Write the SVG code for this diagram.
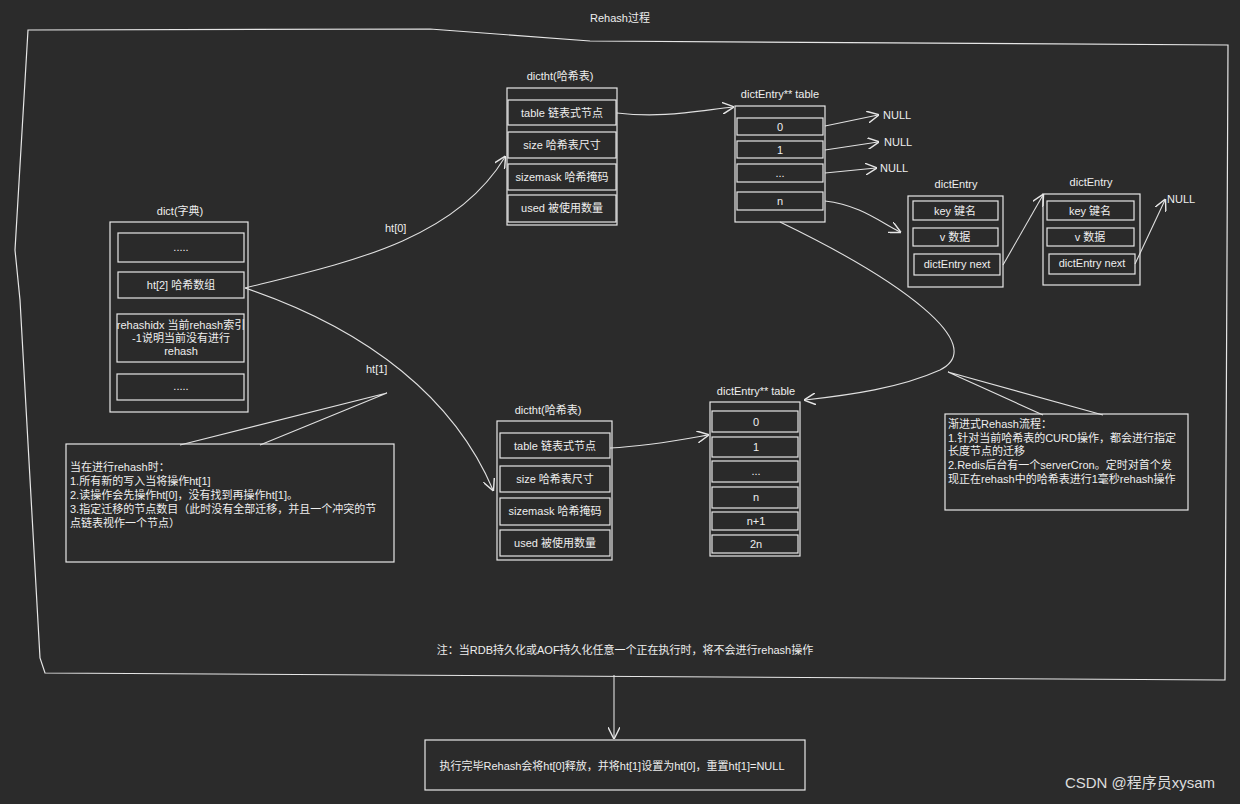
<svg xmlns="http://www.w3.org/2000/svg" width="1240" height="804" viewBox="0 0 1240 804">
<defs>
<style>
.t{font-family:"Liberation Sans","Noto Sans CJK SC",sans-serif;fill:#eeeeee;font-size:11px}
.c{text-anchor:middle}
.b{fill:none;stroke:#e6e6e6;stroke-width:1.2}
.r{fill:#2a2a2a;stroke:#e6e6e6;stroke-width:1.2}
.l{fill:none;stroke:#e0e0e0;stroke-width:1.1}
</style>
<marker id="a" viewBox="0 0 10 10" refX="9" refY="5" markerWidth="12" markerHeight="12" orient="auto" markerUnits="userSpaceOnUse"><path d="M0,0 L10,5 L0,10" fill="none" stroke="#e6e6e6" stroke-width="1.2"/></marker>
</defs>
<rect width="1240" height="804" fill="#2b2b2b"/>
<g id="frame">
<path class="b" d="M28,30 L430,29 L590,41 L1228,45 L1225,680 L45,673 L40,658 L20,300 L15,250 Z"/>
<text class="t c" x="620" y="22">Rehash过程</text>
<text class="t c" x="625" y="654">注：当RDB持久化或AOF持久化任意一个正在执行时，将不会进行rehash操作</text>
</g>
<g id="dict">
<text class="t c" x="180" y="215">dict(字典)</text>
<rect class="b" x="110" y="222" width="138" height="190"/>
<rect class="r" x="118" y="233" width="126" height="29"/><text class="t c" x="181" y="251">.....</text>
<rect class="r" x="118" y="272" width="126" height="26"/><text class="t c" x="181" y="289">ht[2] 哈希数组</text>
<rect class="r" x="117" y="314" width="127" height="48"/>
<text class="t c" x="181" y="329">rehashidx 当前rehash索引</text>
<text class="t c" x="181" y="342">-1说明当前没有进行</text>
<text class="t c" x="181" y="355">rehash</text>
<rect class="r" x="117" y="374" width="127" height="26"/><text class="t c" x="181" y="390">.....</text>
</g>
<g id="dictht0">
<text class="t c" x="560" y="80">dictht(哈希表)</text>
<rect class="b" x="507" y="88" width="110" height="137"/>
<rect class="r" x="508" y="100" width="108" height="25"/><text class="t c" x="562" y="117">table 链表式节点</text>
<rect class="r" x="508" y="132" width="108" height="26"/><text class="t c" x="562" y="149">size 哈希表尺寸</text>
<rect class="r" x="508" y="164" width="108" height="26"/><text class="t c" x="562" y="181">sizemask 哈希掩码</text>
<rect class="r" x="508" y="195" width="108" height="27"/><text class="t c" x="562" y="212">used 被使用数量</text>
</g>
<g id="table0">
<text class="t c" x="780" y="98">dictEntry** table</text>
<rect class="b" x="735" y="106" width="90" height="116"/>
<rect class="r" x="737" y="118" width="86" height="17"/><text class="t c" x="780" y="131">0</text>
<rect class="r" x="737" y="141" width="86" height="17"/><text class="t c" x="780" y="154">1</text>
<rect class="r" x="737" y="164" width="86" height="18"/><text class="t c" x="780" y="177">...</text>
<rect class="r" x="737" y="192" width="86" height="18"/><text class="t c" x="780" y="205">n</text>
</g>
<g id="entry1">
<text class="t c" x="956" y="188">dictEntry</text>
<rect class="b" x="908" y="196" width="95" height="91"/>
<rect class="r" x="913" y="201" width="85" height="19"/><text class="t c" x="955" y="215">key 键名</text>
<rect class="r" x="913" y="228" width="85" height="18"/><text class="t c" x="955" y="241">v 数据</text>
<rect class="r" x="914" y="254" width="86" height="21"/><text class="t c" x="957" y="268">dictEntry next</text>
</g>
<g id="entry2">
<text class="t c" x="1091" y="186">dictEntry</text>
<rect class="b" x="1043" y="194" width="97" height="91"/>
<rect class="r" x="1047" y="201" width="87" height="19"/><text class="t c" x="1090" y="215">key 键名</text>
<rect class="r" x="1047" y="228" width="87" height="18"/><text class="t c" x="1090" y="241">v 数据</text>
<rect class="r" x="1049" y="254" width="86" height="20"/><text class="t c" x="1092" y="267">dictEntry next</text>
</g>
<g id="nulls">
<text class="t" x="883" y="119">NULL</text>
<text class="t" x="884" y="146">NULL</text>
<text class="t" x="880" y="172">NULL</text>
<text class="t" x="1167" y="203">NULL</text>
</g>
<g id="dictht1">
<text class="t c" x="548" y="414">dictht(哈希表)</text>
<rect class="b" x="497" y="421" width="115" height="139"/>
<rect class="r" x="500" y="433" width="110" height="25"/><text class="t c" x="555" y="450">table 链表式节点</text>
<rect class="r" x="500" y="466" width="110" height="26"/><text class="t c" x="555" y="483">size 哈希表尺寸</text>
<rect class="r" x="500" y="498" width="110" height="27"/><text class="t c" x="555" y="515">sizemask 哈希掩码</text>
<rect class="r" x="500" y="530" width="110" height="26"/><text class="t c" x="555" y="547">used 被使用数量</text>
</g>
<g id="table1">
<text class="t c" x="756" y="395">dictEntry** table</text>
<rect class="b" x="710" y="402" width="90" height="154"/>
<rect class="r" x="712" y="411" width="86" height="21"/><text class="t c" x="756" y="426">0</text>
<rect class="r" x="712" y="437" width="86" height="20"/><text class="t c" x="756" y="451">1</text>
<rect class="r" x="712" y="461" width="86" height="21"/><text class="t c" x="756" y="475">...</text>
<rect class="r" x="712" y="487" width="86" height="21"/><text class="t c" x="756" y="501">n</text>
<rect class="r" x="712" y="512" width="86" height="18"/><text class="t c" x="756" y="525">n+1</text>
<rect class="r" x="712" y="535" width="86" height="18"/><text class="t c" x="756" y="548">2n</text>
</g>
<g id="note1">
<rect class="b" x="66" y="444" width="328" height="118"/>
<text class="t" x="70" y="471">当在进行rehash时：</text>
<text class="t" x="70" y="485">1.所有新的写入当将操作ht[1]</text>
<text class="t" x="70" y="499">2.读操作会先操作ht[0]，没有找到再操作ht[1]。</text>
<text class="t" x="70" y="513">3.指定迁移的节点数目（此时没有全部迁移，并且一个冲突的节</text>
<text class="t" x="70" y="527">点链表视作一个节点）</text>
</g>
<g id="note2">
<rect class="b" x="945" y="414" width="243" height="96"/>
<text class="t" x="948" y="428">渐进式Rehash流程：</text>
<text class="t" x="948" y="442">1.针对当前哈希表的CURD操作，都会进行指定</text>
<text class="t" x="948" y="455">长度节点的迁移</text>
<text class="t" x="948" y="469">2.Redis后台有一个serverCron。定时对首个发</text>
<text class="t" x="948" y="483">现正在rehash中的哈希表进行1毫秒rehash操作</text>
</g>
<g id="final">
<rect class="b" x="425" y="740" width="380" height="50"/>
<text class="t c" x="612" y="770">执行完毕Rehash会将ht[0]释放，并将ht[1]设置为ht[0]，重置ht[1]=NULL</text>
</g>
<g id="connectors">
<path class="l" marker-end="url(#a)" d="M245,288 C350,262 455,240 505,157"/>
<path class="l" marker-end="url(#a)" d="M245,288 C370,330 455,400 493,490"/>
<text class="t" x="385" y="232">ht[0]</text>
<text class="t" x="366" y="373">ht[1]</text>
<path class="l" marker-end="url(#a)" d="M617,113 C660,118 690,112 733,107"/>
<path class="l" marker-end="url(#a)" d="M610,448 C650,446 680,440 708,435"/>
<path class="l" marker-end="url(#a)" d="M825,126 L878,115"/>
<path class="l" marker-end="url(#a)" d="M825,150 L878,142"/>
<path class="l" marker-end="url(#a)" d="M825,173 L876,168"/>
<path class="l" marker-end="url(#a)" d="M825,201 C860,205 880,222 900,232"/>
<path class="l" marker-end="url(#a)" d="M1003,265 L1043,195"/>
<path class="l" marker-end="url(#a)" d="M1135,264 L1165,200"/>
<path class="l" marker-end="url(#a)" d="M780,222 C900,280 990,345 940,370 C900,388 850,395 805,400"/>
<path class="l" d="M180,445 L387,393 L260,445"/>
<path class="l" d="M1043,415 L948,372 L1103,415"/>
<path class="l" marker-end="url(#a)" d="M614,675 L614,738"/>
</g>
<text x="1140" y="788" style="font-family:'Liberation Sans','Noto Sans CJK SC',sans-serif;font-size:15px;fill:#dddddd" text-anchor="middle">CSDN @程序员xysam</text>
</svg>
